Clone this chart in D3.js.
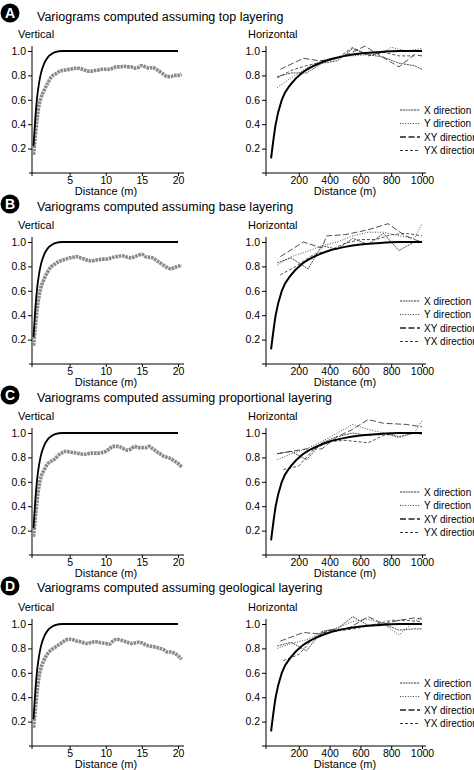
<!DOCTYPE html>
<html><head><meta charset="utf-8">
<script src="https://cdn.jsdelivr.net/npm/d3@7"></script>
<style>body{margin:0;background:#fff}svg{display:block;font-family:"Liberation Sans",Arial,sans-serif}</style>
</head><body>
<svg id="c" width="474" height="770"></svg>
<script>
const letters = ["A","B","C","D"];
const titles = ["Variograms computed assuming top layering","Variograms computed assuming base layering","Variograms computed assuming proportional layering","Variograms computed assuming geological layering"];
const vTicksX = [5,10,15,20];
const hTicksX = [200,400,600,800,1000];
const yTicks = [0.2,0.4,0.6,0.8,1.0];
const legendLabels = ["X direction","Y direction","XY direction","YX direction"];

const vLag = [0,0.25,0.5,0.75,1,1.5,2,2.5,3,3.5,4,4.5,5,5.5,6,6.5,7,7.5,8,8.5,9,9.5,10,10.5,11,11.5,12,12.5,13,13.5,14,14.5,15,15.5,16,16.5,17,17.5,18,18.5,19,19.5,20,20.5];
const vExpA = [0.15,0.30,0.45,0.55,0.61,0.68,0.74,0.79,0.81,0.83,0.84,0.845,0.85,0.855,0.86,0.855,0.845,0.835,0.835,0.84,0.845,0.85,0.85,0.85,0.86,0.87,0.87,0.875,0.87,0.87,0.86,0.865,0.88,0.87,0.86,0.865,0.85,0.83,0.81,0.79,0.79,0.80,0.80,0.81];
const vExpB = [0.15,0.30,0.45,0.55,0.62,0.70,0.76,0.80,0.82,0.84,0.85,0.86,0.87,0.875,0.88,0.87,0.86,0.85,0.845,0.85,0.855,0.86,0.86,0.865,0.875,0.88,0.885,0.885,0.875,0.87,0.88,0.89,0.90,0.88,0.875,0.87,0.85,0.83,0.81,0.79,0.78,0.79,0.80,0.81];
const vExpC = [0.15,0.30,0.45,0.56,0.63,0.70,0.75,0.77,0.79,0.82,0.84,0.85,0.845,0.84,0.835,0.83,0.825,0.83,0.835,0.835,0.835,0.84,0.85,0.87,0.89,0.89,0.885,0.87,0.86,0.87,0.89,0.88,0.88,0.88,0.89,0.87,0.85,0.83,0.81,0.80,0.79,0.77,0.75,0.72];
const vExpD = [0.15,0.30,0.45,0.56,0.63,0.71,0.76,0.79,0.81,0.83,0.85,0.87,0.875,0.87,0.86,0.855,0.845,0.84,0.85,0.855,0.85,0.845,0.84,0.835,0.86,0.875,0.87,0.86,0.85,0.84,0.845,0.85,0.845,0.83,0.82,0.815,0.81,0.80,0.79,0.77,0.77,0.76,0.74,0.71];

const vModelLag = [0,0.25,0.5,0.75,1,1.5,2,2.5,3,4,5,20];
const vModel = [0.22,0.45,0.62,0.73,0.81,0.90,0.95,0.975,0.99,1,1,1];
const hModelLag = [20,50,90,150,220,300,400,500,600,700,850,1000];
const hModel = [0.12,0.40,0.60,0.73,0.82,0.88,0.93,0.96,0.98,0.99,1.0,1.0];

const hA = [
 [[60,150,250,350,450,550,650,750,850,950,1000],[0.79,0.82,0.82,0.90,0.92,1.02,0.97,0.95,0.90,0.88,0.85]],
 [[60,150,250,350,450,550,650,750,800,900,1000],[0.70,0.78,0.86,0.92,0.95,0.96,0.97,0.99,1.03,1.00,1.02]],
 [[80,230,330,430,530,630,730,850,950,1000],[0.85,0.94,0.92,0.93,0.98,1.04,0.96,0.87,0.97,0.96]],
 [[60,150,250,350,450,550,650,750,850,950],[0.78,0.84,0.88,0.91,0.94,1.03,0.96,0.99,0.96,0.96]]];
const hB = [
 [[60,150,260,350,450,550,650,750,850,950,1000],[0.83,0.87,0.78,0.97,0.94,1.03,0.98,1.07,0.93,1.00,1.00]],
 [[60,150,250,350,450,550,650,750,850,950,1000],[0.81,0.88,0.92,0.97,1.00,1.05,1.08,1.08,1.05,1.03,1.15]],
 [[80,230,350,380,500,650,780,880,950,1000],[0.88,1.00,0.95,1.05,1.06,1.10,1.15,1.06,1.02,1.00]],
 [[80,180,300,400,500,600,700,800,900,1000],[0.73,0.80,0.90,0.93,0.99,1.02,1.02,1.06,1.07,1.05]]];
const hC = [
 [[60,150,250,350,450,550,650,750,850,950,1000],[0.83,0.85,0.78,0.92,0.97,1.00,0.98,1.00,0.97,1.00,0.99]],
 [[60,150,250,350,450,550,650,750,850,950,1000],[0.78,0.83,0.87,0.93,1.00,1.07,1.03,1.00,0.96,1.00,1.10]],
 [[60,250,350,450,550,650,750,900,1000],[0.83,0.87,0.87,0.97,1.03,1.11,1.08,1.07,1.05]],
 [[100,200,300,400,500,650,750,850,950,1000],[0.70,0.73,0.87,0.93,0.94,0.92,0.98,1.00,1.00,1.00]]];
const hD = [
 [[60,150,250,350,450,550,650,750,850,950,1000],[0.82,0.85,0.78,0.94,0.96,1.06,0.99,1.00,0.95,0.96,0.96]],
 [[60,150,250,350,450,550,650,750,850,950,1000],[0.80,0.84,0.87,0.93,0.97,1.02,1.04,1.00,0.91,1.02,1.06]],
 [[80,230,330,430,530,650,750,850,950,1000],[0.86,0.93,0.92,0.95,0.97,1.06,1.00,1.03,1.05,1.04]],
 [[100,200,300,400,500,600,700,800,900,1000],[0.70,0.75,0.89,0.95,0.95,0.97,1.00,1.03,1.03,1.02]]];
const vExps = [vExpA,vExpB,vExpC,vExpD];
const hDirs = [hA,hB,hC,hD];
const dashes = ["2,0.8","1,1.6","6,2.5","3,2"];

const svg = d3.select("#c");
const fs = 10.5;
for (let p=0;p<4;p++){
  const oy = 191*p;
  const g = svg.append("g").attr("transform",`translate(0,${oy})`);
  const y = d3.scaleLinear().domain([0,1]).range([173,51]);
  const xv = d3.scaleLinear().domain([0,20]).range([33.5,178]);
  const xh = d3.scaleLinear().domain([0,1000]).range([268,422]);
  const axY = d3.axisLeft(y).tickValues(yTicks).tickFormat(d3.format(".1f")).tickSize(4).tickPadding(2).tickSizeOuter(0);
  const line = (xs,sx)=>d3.line().x((d,i)=>sx(xs[i])).y(d=>y(d));

  // vertical
  g.append("text").attr("x",18).attr("y",38).attr("font-size",11).text("Vertical");
  const ay = g.append("g").attr("transform","translate(32,0)").call(axY);
  ay.select(".domain").attr("d","M0,46V176");
  const ax = g.append("g").attr("transform","translate(0,173)").call(d3.axisBottom(xv).tickValues(vTicksX).tickSize(3).tickPadding(1).tickSizeOuter(0));
  ax.select(".domain").attr("d","M29,0H184");
  g.append("path").datum(vExps[p]).attr("d",line(vLag,xv).curve(d3.curveMonotoneX)).attr("fill","none").attr("stroke","#8a8a8a").attr("stroke-width",3.6).attr("stroke-dasharray","2.6,0.8");
  g.append("path").datum(vModel).attr("d",line(vModelLag,xv).curve(d3.curveMonotoneX)).attr("fill","none").attr("stroke","#000").attr("stroke-width",1.8);

  // horizontal
  g.append("text").attr("x",248).attr("y",38).attr("font-size",11).text("Horizontal");
  const by = g.append("g").attr("transform","translate(266,0)").call(axY);
  by.select(".domain").attr("d","M0,46V176");
  const bx = g.append("g").attr("transform","translate(0,173)").call(d3.axisBottom(xh).tickValues(hTicksX).tickFormat(d3.format("d")).tickSize(3).tickPadding(1).tickSizeOuter(0));
  bx.select(".domain").attr("d","M262,0H426");
  hDirs[p].forEach((s,k)=>{
    g.append("path").datum(s[1]).attr("d",line(s[0],xh)).attr("fill","none").attr("stroke","#222").attr("stroke-width",0.8).attr("stroke-dasharray",dashes[k]);
  });
  g.append("path").datum(hModel).attr("d",line(hModelLag,xh).curve(d3.curveMonotoneX)).attr("fill","none").attr("stroke","#000").attr("stroke-width",2);
  legendLabels.forEach((t,k)=>{
    const ly = 110+k*13.5;
    g.append("line").attr("x1",400).attr("x2",420).attr("y1",ly).attr("y2",ly).attr("stroke","#222").attr("stroke-width",k==2?1.3:0.9).attr("stroke-dasharray",dashes[k]);
    g.append("text").attr("x",424).attr("y",ly+3.5).attr("font-size",10).text(t);
  });
  g.selectAll(".tick text").attr("font-size",fs).attr("font-family","'Liberation Sans',Arial,sans-serif");
  g.selectAll(".domain,.tick line").attr("stroke","#000");
}
// text layers drawn last so they sit above the next panel's background
for (let p=0;p<4;p++){
  const oy = 191*p;
  const g = svg.append("g").attr("transform",`translate(0,${oy})`);
  g.append("text").attr("x",106).attr("y",195).attr("text-anchor","middle").attr("font-size",11).text("Distance (m)");
  g.append("text").attr("x",345).attr("y",195).attr("text-anchor","middle").attr("font-size",11).text("Distance (m)");
  g.append("circle").attr("cx",10).attr("cy",13).attr("r",9.5).attr("fill","#000");
  g.append("text").attr("x",10).attr("y",18).attr("text-anchor","middle").attr("fill","#fff").attr("font-weight","bold").attr("font-size",14).text(letters[p]);
  g.append("text").attr("x",37).attr("y",21-p*0.7).attr("font-size",12.5).text(titles[p]);
}
</script>
</body></html>
